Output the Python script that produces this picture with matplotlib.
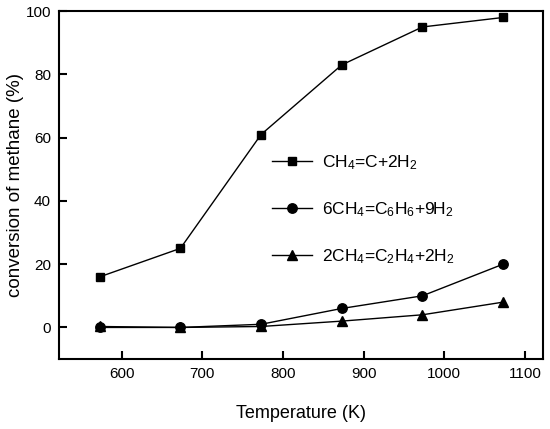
import matplotlib
matplotlib.use('Agg')
import matplotlib.pyplot as plt

plt.rcParams.update({
    'font.family': ['Liberation Sans', 'DejaVu Sans'],
    'font.size': 11,
    'mathtext.fontset': 'custom',
    'mathtext.rm': 'Liberation Sans',
    'mathtext.it': 'Liberation Sans',
    'mathtext.default': 'regular',
})

# data
temperature = [573, 673, 773, 873, 973, 1073]
carbon = [16, 25, 61, 83, 95, 98]
benzene = [0, 0, 1, 6, 10, 20]
ethylene = [0.3, 0, 0.3, 2, 4, 8]

labels = ['CH$_4$=C+2H$_2$', '6CH$_4$=C$_6$H$_6$+9H$_2$', '2CH$_4$=C$_2$H$_4$+2H$_2$']
x_ticks = [600, 700, 800, 900, 1000, 1100]
y_ticks = [0, 20, 40, 60, 80, 100]

fig = plt.figure(figsize=(5.5, 4.29), dpi=100)
ax = fig.add_axes([0.108, 0.163, 0.880, 0.811])

ax.plot(temperature, carbon, '-s', color='black', lw=1.0, ms=6.3, label=labels[0])
ax.plot(temperature, benzene, '-o', color='black', lw=1.0, ms=6.8, label=labels[1])
ax.plot(temperature, ethylene, '-^', color='black', lw=1.0, ms=7.3, label=labels[2])

ax.set_xlim(523, 1123)
ax.set_ylim(-10, 100)
ax.set_xticks(x_ticks)
ax.set_yticks(y_ticks)
ax.tick_params(direction='in', length=6, width=1.5, labelsize=11, pad=6)
for s in ax.spines.values():
    s.set_linewidth(1.5)

ax.set_xlabel('Temperature (K)', fontsize=13, labelpad=17)
ax.set_ylabel('conversion of methane (%)', fontsize=13.5, labelpad=1)

ax.legend(loc='upper left', bbox_to_anchor=(0.407, 0.637), frameon=False,
          handlelength=2.3, handletextpad=0.57, labelspacing=1.64, fontsize=12.5)

fig.savefig('out.png', dpi=100)
